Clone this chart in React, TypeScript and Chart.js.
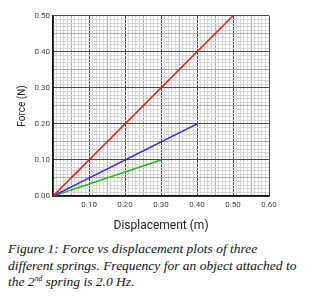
import React, { useEffect, useRef } from "react";
import { Chart, registerables } from "chart.js";

Chart.register(...registerables);

// Data
const spring1Displacement = [0, 0.5];
const spring1Force = [0, 0.5];
const spring2Displacement = [0, 0.4];
const spring2Force = [0, 0.2];
const spring3Displacement = [0, 0.3];
const spring3Force = [0, 0.1];

const xMin = 0;
const xMax = 0.6;
const yMin = 0;
const yMax = 0.5;
const minorStep = 0.01;

const xTitle = "Displacement (m)";
const yTitle = "Force (N)";

const toPoints = (xs: number[], ys: number[]) => xs.map((x, i) => ({ x, y: ys[i] }));

const gridColor = (ctx: any) => {
  if (!ctx || !ctx.tick) return "#ddd";
  const v = Math.round(ctx.tick.value * 100);
  if (v % 10 === 0) return "#4a4a4a";
  if (v % 5 === 0) return "#a8a8a8";
  return "#d6d6d6";
};

export default function App() {
  const canvasRef = useRef<HTMLCanvasElement | null>(null);

  useEffect(() => {
    if (!canvasRef.current) return;
    const chart = new Chart(canvasRef.current, {
      type: "line",
      data: {
        datasets: [
          {
            data: toPoints(spring1Displacement, spring1Force),
            borderColor: "#ff1010",
            borderWidth: 1.5,
            pointRadius: 0,
          },
          {
            data: toPoints(spring2Displacement, spring2Force),
            borderColor: "#3a1fff",
            borderWidth: 1.5,
            pointRadius: 0,
          },
          {
            data: toPoints(spring3Displacement, spring3Force),
            borderColor: "#1dbb1d",
            borderWidth: 1.5,
            pointRadius: 0,
          },
        ],
      },
      options: {
        animation: false,
        responsive: true,
        maintainAspectRatio: false,
        layout: { padding: { left: 0, right: 36, top: 4, bottom: 0 } },
        plugins: { legend: { display: false }, tooltip: { enabled: false } },
        scales: {
          x: {
            type: "linear",
            min: xMin,
            max: xMax,
            grid: { color: gridColor, lineWidth: 1, drawTicks: false },
            border: { color: "#111", width: 1.5 },
            ticks: {
              stepSize: minorStep,
              autoSkip: false,
              maxTicksLimit: 200,
              maxRotation: 0,
              padding: 4,
              color: "#444",
              font: { family: "Roboto", size: 8 },
              callback: (value: any) => {
                const v = Math.round(Number(value) * 100);
                return v % 10 === 0 && v !== 0 ? (v / 100).toFixed(2) : "";
              },
            },
            title: {
              display: true,
              text: xTitle,
              color: "#222",
              font: { family: "Roboto", size: 12 },
              padding: { top: 5, bottom: 3 },
            },
          },
          y: {
            type: "linear",
            min: yMin,
            max: yMax,
            grid: { color: gridColor, lineWidth: 1, drawTicks: false },
            border: { color: "#111", width: 1.5 },
            ticks: {
              stepSize: minorStep,
              autoSkip: false,
              maxTicksLimit: 200,
              padding: 3,
              color: "#444",
              font: { family: "Roboto", size: 8 },
              callback: (value: any) => {
                const v = Math.round(Number(value) * 100);
                return v % 10 === 0 ? (v / 100).toFixed(2) : "";
              },
            },
            title: {
              display: true,
              text: yTitle,
              color: "#222",
              font: { family: "Roboto", size: 10 },
              padding: { top: 8, bottom: 3.5 },
            },
          },
        },
      },
    });
    return () => chart.destroy();
  }, []);

  return (
    <div>
      <div style={{ position: "relative", width: 297, height: 228 }}>
        <canvas ref={canvasRef} />
      </div>
      <div
        style={{
          fontFamily: "'Liberation Serif', 'DejaVu Serif', serif",
          fontStyle: "italic",
          fontSize: 13.5,
          lineHeight: "16.5px",
          color: "#111",
          marginTop: 5,
          width: 290,
        }}
      >
        Figure 1: Force vs displacement plots of three different springs. Frequency for an object attached to the 2
        <sup style={{ fontSize: 7.5, lineHeight: 0 }}>nd</sup> spring is 2.0 Hz.
      </div>
    </div>
  );
}
